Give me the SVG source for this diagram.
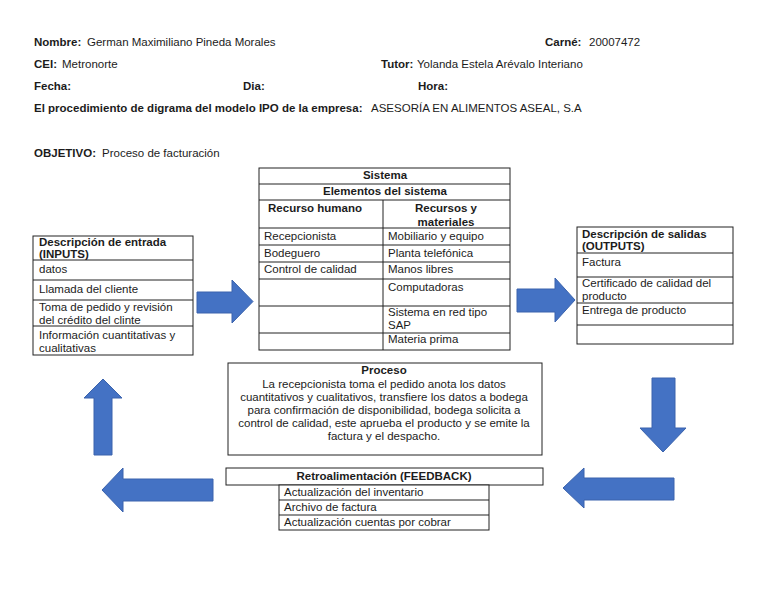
<svg xmlns="http://www.w3.org/2000/svg" width="768" height="594" viewBox="0 0 768 594">
<style>
text{font-family:"Liberation Sans",Arial,sans-serif;font-size:11.5px;fill:#1c1c1c}
.b{font-weight:bold}
.c{text-anchor:middle}
.box{fill:#fff;stroke:#222;stroke-width:1}
.ln{stroke:#222;stroke-width:1;fill:none}
.arr{fill:#4472C4;stroke:#3a63ad;stroke-width:1}
</style>
<rect width="768" height="594" fill="#fff"/>
<g id="header">
<text x="34" y="46" class="b">Nombre:</text>
<text x="87" y="46">German Maximiliano Pineda Morales</text>
<text x="545" y="46" class="b">Carné:</text>
<text x="589" y="46">20007472</text>
<text x="34" y="68" class="b">CEI:</text>
<text x="62" y="68">Metronorte</text>
<text x="381" y="68" class="b">Tutor:</text>
<text x="417" y="68">Yolanda Estela Arévalo Interiano</text>
<text x="34" y="90" class="b">Fecha:</text>
<text x="243" y="90" class="b">Dia:</text>
<text x="418" y="90" class="b">Hora:</text>
<text x="34" y="112" class="b">El procedimiento de digrama del modelo IPO de la empresa:</text>
<text x="371" y="112">ASESORÍA EN ALIMENTOS ASEAL, S.A</text>
<text x="34" y="157" class="b">OBJETIVO:</text>
<text x="102" y="157">Proceso de facturación</text>
</g>
<g id="inputs">
<rect class="box" x="33" y="236" width="160" height="119"/>
<path class="ln" d="M33 260H193M33 280H193M33 300H193M33 326H193"/>
<text x="39" y="246" class="b">Descripción de entrada</text>
<text x="39" y="258" class="b">(INPUTS)</text>
<text x="39" y="273">datos</text>
<text x="39" y="293">Llamada del cliente</text>
<text x="39" y="311">Toma de pedido y revisión</text>
<text x="39" y="324">del crédito del clinte</text>
<text x="39" y="339">Información cuantitativas y</text>
<text x="39" y="352">cualitativas</text>
</g>
<g id="sistema">
<rect class="box" x="259" y="168" width="251" height="182"/>
<path class="ln" d="M259 184H510M259 200H510M259 228H510M259 245H510M259 262H510M259 279H510M259 306H510M259 333H510M383 200V350"/>
<text x="385" y="179" class="b c">Sistema</text>
<text x="385" y="195" class="b c">Elementos del sistema</text>
<text x="315" y="212" class="b c">Recurso humano</text>
<text x="446" y="212" class="b c">Recursos y</text>
<text x="446" y="226" class="b c">materiales</text>
<text x="264" y="240">Recepcionista</text>
<text x="388" y="240">Mobiliario y equipo</text>
<text x="264" y="257">Bodeguero</text>
<text x="388" y="257">Planta telefónica</text>
<text x="264" y="273">Control de calidad</text>
<text x="388" y="273">Manos libres</text>
<text x="388" y="291">Computadoras</text>
<text x="388" y="316">Sistema en red tipo</text>
<text x="388" y="329">SAP</text>
<text x="388" y="343">Materia prima</text>
</g>
<g id="outputs">
<rect class="box" x="577" y="227" width="156" height="117"/>
<path class="ln" d="M577 253H733M577 277H733M577 303H733M577 325H733"/>
<text x="582" y="238" class="b">Descripción de salidas</text>
<text x="582" y="250" class="b">(OUTPUTS)</text>
<text x="582" y="266">Factura</text>
<text x="582" y="287">Certificado de calidad del</text>
<text x="582" y="300">producto</text>
<text x="582" y="314">Entrega de producto</text>
</g>
<g id="proceso">
<rect class="box" x="228" y="363" width="314" height="92"/>
<text x="384" y="374" class="b c">Proceso</text>
<text x="384" y="388" class="c">La recepcionista toma el pedido anota los datos</text>
<text x="384" y="401" class="c">cuantitativos y cualitativos, transfiere los datos a bodega</text>
<text x="384" y="414" class="c">para confirmación de disponibilidad, bodega solicita a</text>
<text x="384" y="427" class="c">control de calidad, este aprueba el producto y se emite la</text>
<text x="384" y="440" class="c">factura y el despacho.</text>
</g>
<g id="feedback">
<rect class="box" x="226" y="468" width="317" height="17"/>
<text x="384" y="480" class="b c">Retroalimentación (FEEDBACK)</text>
<rect class="box" x="279" y="485" width="210" height="45"/>
<path class="ln" d="M279 500H489M279 515H489"/>
<text x="284" y="496">Actualización del inventario</text>
<text x="284" y="511">Archivo de factura</text>
<text x="284" y="526">Actualización cuentas por cobrar</text>
</g>
<g id="connectors">
<polygon class="arr" points="197,292 232,292 232,280 253,301.5 232,323 232,313 197,313"/>
<polygon class="arr" points="517,289 555,289 555,278 575,300 555,322 555,312 517,312"/>
<polygon class="arr" points="652,378 675,378 675,428 686,428 663,452 640,428 652,428"/>
<polygon class="arr" points="674,478 584,478 584,468 563,488 584,508 584,500 674,500"/>
<polygon class="arr" points="213,479 123,479 123,468 102,490 123,512 123,501 213,501"/>
<polygon class="arr" points="94,455 94,398 84,398 103,379 122,398 112,398 112,455"/>
</g>
</svg>
